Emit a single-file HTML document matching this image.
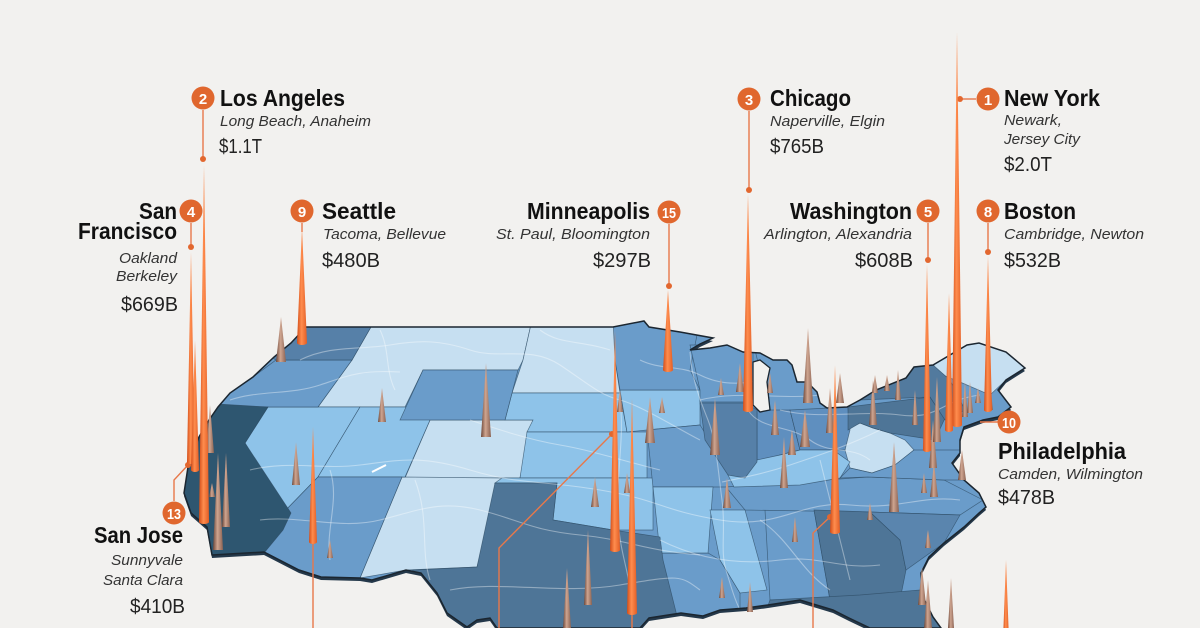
<!DOCTYPE html>
<html><head><meta charset="utf-8"><style>
html,body{margin:0;padding:0;background:#f2f1ef;}
svg{display:block}
.nm{font-family:"Liberation Sans",sans-serif;font-weight:bold;font-size:23px;fill:#111;}
.it{font-family:"Liberation Sans",sans-serif;font-style:italic;font-size:15px;fill:#333;}
.vl{font-family:"Liberation Sans",sans-serif;font-size:20px;fill:#222;}
.cn{font-family:"Liberation Sans",sans-serif;font-weight:bold;font-size:15px;fill:#fff;}
</style></head><body>
<svg width="1200" height="628" viewBox="0 0 1200 628" xmlns="http://www.w3.org/2000/svg">
<defs>
<linearGradient id="og" x1="0" x2="1" y1="0" y2="0"><stop offset="0" stop-color="#d24c18"/><stop offset="0.45" stop-color="#ff8d4e"/><stop offset="1" stop-color="#e25d25"/></linearGradient>
<linearGradient id="bg" x1="0" x2="1" y1="0" y2="0"><stop offset="0" stop-color="#6c4739"/><stop offset="0.45" stop-color="#cfa590"/><stop offset="1" stop-color="#8a6252"/></linearGradient>
<clipPath id="us"><path id="usp" d="M306,327 L613,327 L644,321 L649,327 L680,332 L713,338 L700,344 L690,350 L710,348 L727,345 L743,352 L760,353 L773,360 L787,360 L792,365 L797,382 L807,382 L817,392 L820,403 L827,408 L847,407 L860,400 L876,390 L906,378 L914,367 L933,365 L967,345 L979,343 L1006,352 L1025,368 L1006,380 L998,390 L1011,407 L998,417 L983,420 L964,427 L960,440 L960,453 L952,463 L964,480 L979,493 L986,507 L979,513 L964,527 L944,543 L929,557 L921,573 L923,597 L933,617 L941,628 L870,628 L849,618 L833,610 L800,600 L768,605 L746,608 L720,610 L703,616 L681,613 L649,618 L640,628 L497,628 L490,618 L477,620 L467,627 L447,613 L437,593 L421,573 L406,570 L372,580 L360,578 L321,577 L299,570 L264,552 L212,555 L207,527 L191,513 L184,493 L188,467 L199,437 L209,420 L218,407 L230,393 L253,377 L274,357 L291,343 Z"/></clipPath>
</defs>
<rect width="1200" height="628" fill="#f2f1ef"/>
<use href="#usp" transform="translate(0,3)" fill="#24384a"/>
<use href="#usp" fill="#6a9cca"/>
<g clip-path="url(#us)" stroke="#2c4a63" stroke-width="0.7" stroke-opacity="0.7">
<polygon fill="#c6dff1" points="375,320 532,320 523,360 518,370 423,370 405,407 318,407 352,360"/>
<polygon fill="#c6dff1" points="532,320 615,320 615,360 620,393 512,393 523,360"/>
<polygon fill="#c6dff1" points="430,420 533,420 520,478 405,478"/>
<polygon fill="#c6dff1" points="402,477 502,478 477,567 406,570 360,578"/>
<polygon fill="#c6dff1" points="845,430 860,423 873,428 890,433 905,440 914,450 895,465 872,473 850,468 845,450"/>
<polygon fill="#c6dff1" points="930,340 967,340 1010,350 1030,368 1006,380 990,395 960,382 935,372"/>
<polygon fill="#8ec3e9" points="268,407 360,407 318,477 283,513 245,443"/>
<polygon fill="#8ec3e9" points="360,407 405,407 430,420 405,477 318,477"/>
<polygon fill="#8ec3e9" points="512,393 620,393 627,432 527,432 533,420 505,420"/>
<polygon fill="#8ec3e9" points="527,432 647,432 647,478 520,478"/>
<polygon fill="#8ec3e9" points="502,478 653,478 653,530 613,530 553,520 557,483 495,483"/>
<polygon fill="#8ec3e9" points="620,390 700,390 700,425 647,430 627,432"/>
<polygon fill="#6a9cca" points="423,370 518,370 505,420 400,420"/>
<polygon fill="#6a9cca" points="276,360 352,360 318,407 200,407 230,393 253,377"/>
<polygon fill="#6a9cca" points="318,477 402,477 360,578 321,577 299,570 264,552 275,530 283,513"/>
<polygon fill="#6a9cca" points="613,320 700,320 690,370 700,390 620,390 615,360"/>
<polygon fill="#6a9cca" points="690,345 753,345 753,402 700,402 700,390"/>
<polygon fill="#6a9cca" points="647,430 700,425 730,473 735,487 653,487"/>
<polygon fill="#6a9cca" points="660,553 708,553 720,560 740,593 740,628 660,628"/>
<polygon fill="#6a9cca" points="765,510 814,510 830,600 770,600"/>
<polygon fill="#6a9cca" points="726,487 868,477 944,480 983,500 960,515 870,512 745,510"/>
<polygon fill="#6a9cca" points="755,350 800,350 825,395 825,410 770,412"/>
<polygon fill="#5f8fbf" points="757,410 790,410 800,450 780,455 757,462"/>
<polygon fill="#5f8fbf" points="790,410 848,407 850,430 845,450 833,450 800,450"/>
<polygon fill="#8ec3e9" points="734,455 757,460 780,455 800,450 833,450 850,462 840,478 800,485 734,487 728,475"/>
<polygon fill="#8ec3e9" points="653,487 713,487 708,553 660,553"/>
<polygon fill="#8ec3e9" points="710,510 745,510 767,590 740,593 720,560"/>
<polygon fill="#6a9cca" points="850,468 872,473 895,465 914,450 960,450 983,480 944,480 868,477 840,478"/>
<polygon fill="#5680a8" points="300,320 375,320 352,360 276,360 260,350"/>
<polygon fill="#5680a8" points="700,403 745,403 757,410 757,462 745,478 728,475 705,440"/>
<polygon fill="#4e7597" points="495,483 557,483 553,520 613,530 660,537 663,560 673,600 680,628 380,628 413,570 477,567"/>
<polygon fill="#4e7597" points="848,407 930,397 945,418 935,440 890,433 873,428 860,423 848,430"/>
<polygon fill="#527a9e" points="870,385 914,367 933,365 950,380 965,410 945,420 930,397 860,400"/>
<polygon fill="#4e7597" points="814,510 870,512 900,540 906,570 900,600 830,600"/>
<polygon fill="#4e7597" points="770,600 860,595 920,590 950,628 760,628"/>
<polygon fill="#5a85ae" points="870,512 960,515 944,543 906,570 900,540"/>
<polygon fill="#2e5670" points="150,400 268,407 245,443 291,513 283,530 264,553 205,565 150,560"/>
</g>
<g clip-path="url(#us)" fill="none" stroke="#ffffff" stroke-opacity="0.38" stroke-width="1.1">
<path d="M230,400 C260,390 290,395 320,385 S360,370 400,372"/>
<path d="M300,360 C330,345 360,350 390,345 S440,340 470,350 S530,345 560,365 S600,395 620,400 S680,430 700,440"/>
<path d="M690,352 C692,380 700,400 708,420 S718,470 722,500 S720,550 726,570 S735,600 740,610"/>
<path d="M880,430 C850,445 820,455 790,465 S740,478 722,482"/>
<path d="M250,470 C290,460 320,470 360,465 S420,455 470,470 S540,480 600,490 S660,510 720,520 S800,500 850,505 S920,495 960,500"/>
<path d="M260,520 C300,515 340,530 380,520 S440,500 480,510 S530,530 580,535 S640,550 700,555"/>
<path d="M330,470 C340,500 325,530 330,560"/>
<path d="M620,400 C625,440 615,480 618,520 S630,570 632,610"/>
<path d="M660,540 C700,560 740,565 780,560 S840,570 880,565"/>
<path d="M780,410 C820,420 860,410 900,415 S940,400 980,395"/>
<path d="M820,460 C830,500 840,540 850,580"/>
<path d="M700,400 C740,390 780,400 820,395"/>
<path d="M470,420 C500,430 530,440 560,445 S620,460 660,470"/>
<path d="M415,480 C430,520 420,550 430,580"/>
<path d="M380,330 C390,350 385,370 395,390"/>
<path d="M450,590 C500,580 560,595 620,585 S680,575 700,590"/>
<path d="M760,520 C790,540 800,570 830,590"/>
<path d="M540,330 C560,345 580,340 610,350"/>
<path d="M748,410 C760,430 790,425 810,440 S850,445 870,460"/>
<path d="M640,360 C660,370 680,365 700,375 S740,385 760,380"/>
</g>
<path d="M372,472 L386,465" stroke="#fff" stroke-width="2"/>
<use href="#usp" fill="none" stroke="#1b2630" stroke-width="1.5"/>
<!-- Lake Michigan -->
<path d="M753,362 L760,360 L770,368 L767,382 L770,410 L760,412 L753,405 Z" fill="#f2f1ef" stroke="#1b2630" stroke-width="1.3"/>

<g stroke="#e8784a" stroke-width="1.4" fill="none">
<line x1="203" y1="110" x2="203" y2="159"/>
<line x1="191" y1="223" x2="191" y2="247"/>
<line x1="302" y1="223" x2="302" y2="232"/>
<line x1="669" y1="224" x2="669" y2="286"/>
<line x1="749" y1="111" x2="749" y2="190"/>
<line x1="960" y1="99" x2="976" y2="99"/>
<line x1="928" y1="223" x2="928" y2="260"/>
<line x1="988" y1="223" x2="988" y2="252"/>
<line x1="980" y1="422" x2="998" y2="422"/>
<polyline points="188,465 174,480 174,501"/>
<polyline points="612,434 499,548 499,628"/>
<polyline points="830,517 813,533 813,628"/>
<line x1="313" y1="542" x2="313" y2="628"/>
<line x1="632" y1="613" x2="632" y2="628"/>
</g>
<g fill="#e2672f">
<circle cx="203" cy="159" r="3"/><circle cx="191" cy="247" r="3"/><circle cx="669" cy="286" r="3"/>
<circle cx="749" cy="190" r="3"/><circle cx="960" cy="99" r="3"/><circle cx="928" cy="260" r="3"/>
<circle cx="988" cy="252" r="3"/><circle cx="612" cy="434" r="3"/><circle cx="188" cy="465" r="3"/>
<circle cx="830" cy="517" r="3"/>
</g>

<g fill="url(#bg)">
<polygon points="276,362 281,317 286,362"/>
<polygon points="206,453 210,405 214,453"/>
<polygon points="213,550 218,453 223,550"/>
<polygon points="222,527 226,453 230,527"/>
<polygon points="209,497 212,483 215,497"/>
<polygon points="292,485 296,442 300,485"/>
<polygon points="378,422 382,388 386,422"/>
<polygon points="481,437 486,363 491,437"/>
<polygon points="327,558 330,540 333,558"/>
<polygon points="591,507 595,477 599,507"/>
<polygon points="584,605 588,530 592,605"/>
<polygon points="563,628 567,568 571,628"/>
<polygon points="617,412 620,390 623,412"/>
<polygon points="645,443 650,397 655,443"/>
<polygon points="659,413 662,397 665,413"/>
<polygon points="718,395 721,378 724,395"/>
<polygon points="710,455 715,398 720,455"/>
<polygon points="736,392 740,363 744,392"/>
<polygon points="767,393 770,373 773,393"/>
<polygon points="771,435 775,400 779,435"/>
<polygon points="624,493 627,473 630,493"/>
<polygon points="723,508 727,478 731,508"/>
<polygon points="719,598 722,577 725,598"/>
<polygon points="747,612 750,582 753,612"/>
<polygon points="803,403 808,328 813,403"/>
<polygon points="800,447 805,410 810,447"/>
<polygon points="788,455 792,430 796,455"/>
<polygon points="780,488 784,437 788,488"/>
<polygon points="826,433 830,388 834,433"/>
<polygon points="836,403 840,373 844,403"/>
<polygon points="869,425 873,380 877,425"/>
<polygon points="872,393 875,375 878,393"/>
<polygon points="884,391 887,375 890,391"/>
<polygon points="889,512 894,442 899,512"/>
<polygon points="867,520 870,503 873,520"/>
<polygon points="921,493 924,473 927,493"/>
<polygon points="930,497 934,463 938,497"/>
<polygon points="929,468 933,420 937,468"/>
<polygon points="933,442 937,377 941,442"/>
<polygon points="958,480 962,450 966,480"/>
<polygon points="962,417 965,382 968,417"/>
<polygon points="967,413 970,382 973,413"/>
<polygon points="975,403 978,388 981,403"/>
<polygon points="987,410 990,383 993,410"/>
<polygon points="925,548 928,530 931,548"/>
<polygon points="918,605 922,567 926,605"/>
<polygon points="924,628 928,580 932,628"/>
<polygon points="948,628 951,578 954,628"/>
<polygon points="792,542 795,517 798,542"/>
<polygon points="912,425 915,390 918,425"/>
<polygon points="895,400 898,370 901,400"/>
</g>

<g fill="url(#og)">
<polygon points="952,425 957,32 962,425"/><ellipse cx="957" cy="425" rx="5" ry="2"/>
<polygon points="945,430 949,293 953,430"/><ellipse cx="949" cy="430" rx="4" ry="2"/>
<polygon points="923,450 927,264 931,450"/><ellipse cx="927" cy="450" rx="4" ry="2"/>
<polygon points="984,410 988,256 992,410"/><ellipse cx="988" cy="410" rx="4" ry="2"/>
<polygon points="743,410 748,194 753,410"/><ellipse cx="748" cy="410" rx="5" ry="2"/>
<polygon points="663,370 668,290 673,370"/><ellipse cx="668" cy="370" rx="5" ry="2"/>
<polygon points="830,532 835,365 840,532"/><ellipse cx="835" cy="532" rx="5" ry="2"/>
<polygon points="610,550 615,330 620,550"/><ellipse cx="615" cy="550" rx="5" ry="2"/>
<polygon points="627,613 632,398 637,613"/><ellipse cx="632" cy="613" rx="5" ry="2"/>
<polygon points="309,542 313,427 317,542"/><ellipse cx="313" cy="542" rx="4" ry="2"/>
<polygon points="187,462 191,252 195,462"/><ellipse cx="191" cy="462" rx="4" ry="2"/>
<polygon points="191,470 195,340 199,470"/><ellipse cx="195" cy="470" rx="4" ry="2"/>
<polygon points="199,522 204,165 209,522"/><ellipse cx="204" cy="522" rx="5" ry="2"/>
<polygon points="297,343 302,228 307,343"/><ellipse cx="302" cy="343" rx="5" ry="2"/>
<polygon points="1003,640 1006,560 1009,640"/>
</g>

<g fill="#e0672e">
<circle cx="203" cy="98" r="11.5"/><circle cx="191" cy="211" r="11.5"/><circle cx="302" cy="211" r="11.5"/>
<circle cx="669" cy="212" r="11.5"/><circle cx="749" cy="99" r="11.5"/><circle cx="988" cy="99" r="11.5"/>
<circle cx="928" cy="211" r="11.5"/><circle cx="988" cy="211" r="11.5"/><circle cx="1009" cy="422" r="11.5"/>
<circle cx="174" cy="513" r="11.5"/>
</g>
<g class="cn" text-anchor="middle">
<text x="203" y="104">2</text><text x="191" y="217">4</text><text x="302" y="217">9</text>
<text x="669" y="218" textLength="14" lengthAdjust="spacingAndGlyphs">15</text>
<text x="749" y="105">3</text><text x="988" y="105">1</text><text x="928" y="217">5</text><text x="988" y="217">8</text>
<text x="1009" y="428" textLength="14" lengthAdjust="spacingAndGlyphs">10</text>
<text x="174" y="519" textLength="14" lengthAdjust="spacingAndGlyphs">13</text>
</g>

<g>
<text class="nm" x="220" y="106" textLength="125" lengthAdjust="spacingAndGlyphs">Los Angeles</text>
<text class="it" x="220" y="126" textLength="151" lengthAdjust="spacingAndGlyphs">Long Beach, Anaheim</text>
<text class="vl" x="219" y="153" textLength="43" lengthAdjust="spacingAndGlyphs">$1.1T</text>

<text class="nm" x="177" y="219" text-anchor="end" textLength="38" lengthAdjust="spacingAndGlyphs">San</text>
<text class="nm" x="177" y="239" text-anchor="end" textLength="99" lengthAdjust="spacingAndGlyphs">Francisco</text>
<text class="it" x="177" y="263" text-anchor="end" textLength="58" lengthAdjust="spacingAndGlyphs">Oakland</text>
<text class="it" x="177" y="281" text-anchor="end" textLength="61" lengthAdjust="spacingAndGlyphs">Berkeley</text>
<text class="vl" x="178" y="311" text-anchor="end" textLength="57" lengthAdjust="spacingAndGlyphs">$669B</text>

<text class="nm" x="322" y="219" textLength="74" lengthAdjust="spacingAndGlyphs">Seattle</text>
<text class="it" x="323" y="239" textLength="123" lengthAdjust="spacingAndGlyphs">Tacoma, Bellevue</text>
<text class="vl" x="322" y="267" textLength="58" lengthAdjust="spacingAndGlyphs">$480B</text>

<text class="nm" x="650" y="219" text-anchor="end" textLength="123" lengthAdjust="spacingAndGlyphs">Minneapolis</text>
<text class="it" x="650" y="239" text-anchor="end" textLength="154" lengthAdjust="spacingAndGlyphs">St. Paul,  Bloomington</text>
<text class="vl" x="651" y="267" text-anchor="end" textLength="58" lengthAdjust="spacingAndGlyphs">$297B</text>

<text class="nm" x="770" y="106" textLength="81" lengthAdjust="spacingAndGlyphs">Chicago</text>
<text class="it" x="770" y="126" textLength="115" lengthAdjust="spacingAndGlyphs">Naperville, Elgin</text>
<text class="vl" x="770" y="153" textLength="54" lengthAdjust="spacingAndGlyphs">$765B</text>

<text class="nm" x="1004" y="106" textLength="96" lengthAdjust="spacingAndGlyphs">New York</text>
<text class="it" x="1004" y="125" textLength="58" lengthAdjust="spacingAndGlyphs">Newark,</text>
<text class="it" x="1004" y="144" textLength="76" lengthAdjust="spacingAndGlyphs">Jersey City</text>
<text class="vl" x="1004" y="171" textLength="48" lengthAdjust="spacingAndGlyphs">$2.0T</text>

<text class="nm" x="912" y="219" text-anchor="end" textLength="122" lengthAdjust="spacingAndGlyphs">Washington</text>
<text class="it" x="912" y="239" text-anchor="end" textLength="148" lengthAdjust="spacingAndGlyphs">Arlington, Alexandria</text>
<text class="vl" x="913" y="267" text-anchor="end" textLength="58" lengthAdjust="spacingAndGlyphs">$608B</text>

<text class="nm" x="1004" y="219" textLength="72" lengthAdjust="spacingAndGlyphs">Boston</text>
<text class="it" x="1004" y="239" textLength="140" lengthAdjust="spacingAndGlyphs">Cambridge, Newton</text>
<text class="vl" x="1004" y="267" textLength="57" lengthAdjust="spacingAndGlyphs">$532B</text>

<text class="nm" x="998" y="459" textLength="128" lengthAdjust="spacingAndGlyphs">Philadelphia</text>
<text class="it" x="998" y="479" textLength="145" lengthAdjust="spacingAndGlyphs">Camden, Wilmington</text>
<text class="vl" x="998" y="504" textLength="57" lengthAdjust="spacingAndGlyphs">$478B</text>

<text class="nm" x="183" y="543" text-anchor="end" textLength="89" lengthAdjust="spacingAndGlyphs">San Jose</text>
<text class="it" x="183" y="565" text-anchor="end" textLength="72" lengthAdjust="spacingAndGlyphs">Sunnyvale</text>
<text class="it" x="183" y="585" text-anchor="end" textLength="80" lengthAdjust="spacingAndGlyphs">Santa Clara</text>
<text class="vl" x="185" y="613" text-anchor="end" textLength="55" lengthAdjust="spacingAndGlyphs">$410B</text>
</g>
</svg>
</body></html>
